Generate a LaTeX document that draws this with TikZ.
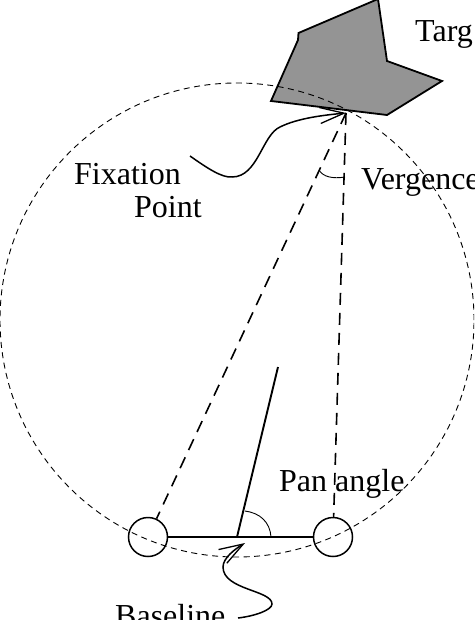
\documentclass[tikz,border=0pt]{standalone}
\usepackage{fontspec}
\setmainfont{Liberation Serif}
\usetikzlibrary{arrows.meta}
\tikzset{
  lbl/.style={anchor=base west,inner sep=0pt,font=\fontsize{32}{36}\selectfont},
  eye/.style={circle,draw,line width=1.5pt,minimum size=39pt,inner sep=0pt},
  bigdash/.style={line width=1.6pt,dash pattern=on 12pt off 8pt},
  thindash/.style={line width=0.9pt,dash pattern=on 6pt off 4.5pt},
  solid1/.style={line width=1.9pt},
  pointer/.style={line width=1.5pt,-{Straight Barb[length=24pt,width=16pt,line width=1.3pt]}},
  thinarc/.style={line width=0.9pt}
}
\begin{document}
\begin{tikzpicture}[x=1pt,y=-1pt]
\useasboundingbox (0,0) rectangle (474,620);
\clip (0,0) rectangle (474,620);
% target
\filldraw[fill=black!42,draw=black,line width=1.8pt,line join=miter]
  (378,-1) -- (387,61) -- (442,81) -- (387,115) -- (271,101) -- (298,40) -- (298.5,33) -- cycle;
% horopter circle
\node[circle,draw,thindash,minimum size=474pt,inner sep=0pt] (horopter) at (237,320) {};
% points
\coordinate (fix) at (346,113);
\coordinate (pan) at (237,537);
\coordinate (panend) at (278,367);
\node[eye] (leye) at (148,537) {};
\node[eye] (reye) at (333,537) {};
% lines
\draw[bigdash] (fix) -- (leye);
\draw[bigdash] (fix) -- (reye);
\draw[solid1] (leye) -- (reye);
\draw[solid1] (pan) -- (panend);
% angle arcs
\coordinate (pa1) at (245,511);
\coordinate (pa2) at (271,537);
\draw[thinarc] (pa1) .. controls (260,513) and (270,522) .. (pa2);
\coordinate (va1) at (319,170);
\coordinate (va2) at (345,177);
\draw[thinarc] (va1) .. controls (323,177) and (333,179) .. (va2);
% labels
\node[lbl] (targ) at (415,42) {Targ};
\node[lbl] (verg) at (361,190) {Vergence};
\node[lbl] (fixl) at (74,185) {Fixation};
\node[lbl] (pointl) at (134,218) {Point};
\node[lbl] (panl) at (279,491) {Pan angle};
\node[lbl] (basel) at (115,626) {Baseline};
% pointers
\coordinate (fs) at (190,156);
\draw[pointer] (fs) .. controls (207,168) and (222,178) .. (232,177)
  .. controls (258,177) and (262,135) .. (280,127)
  .. controls (298,118) and (325,115) .. (fix);
\coordinate (bs) at (238,618);
\coordinate (bt) at (245,543);
\draw[pointer] (bs) .. controls (255,616) and (272,610) .. (272,604)
  .. controls (272,590) and (223,590) .. (223,567)
  .. controls (223,558) and (235,549) .. (bt);
\end{tikzpicture}
\end{document}
